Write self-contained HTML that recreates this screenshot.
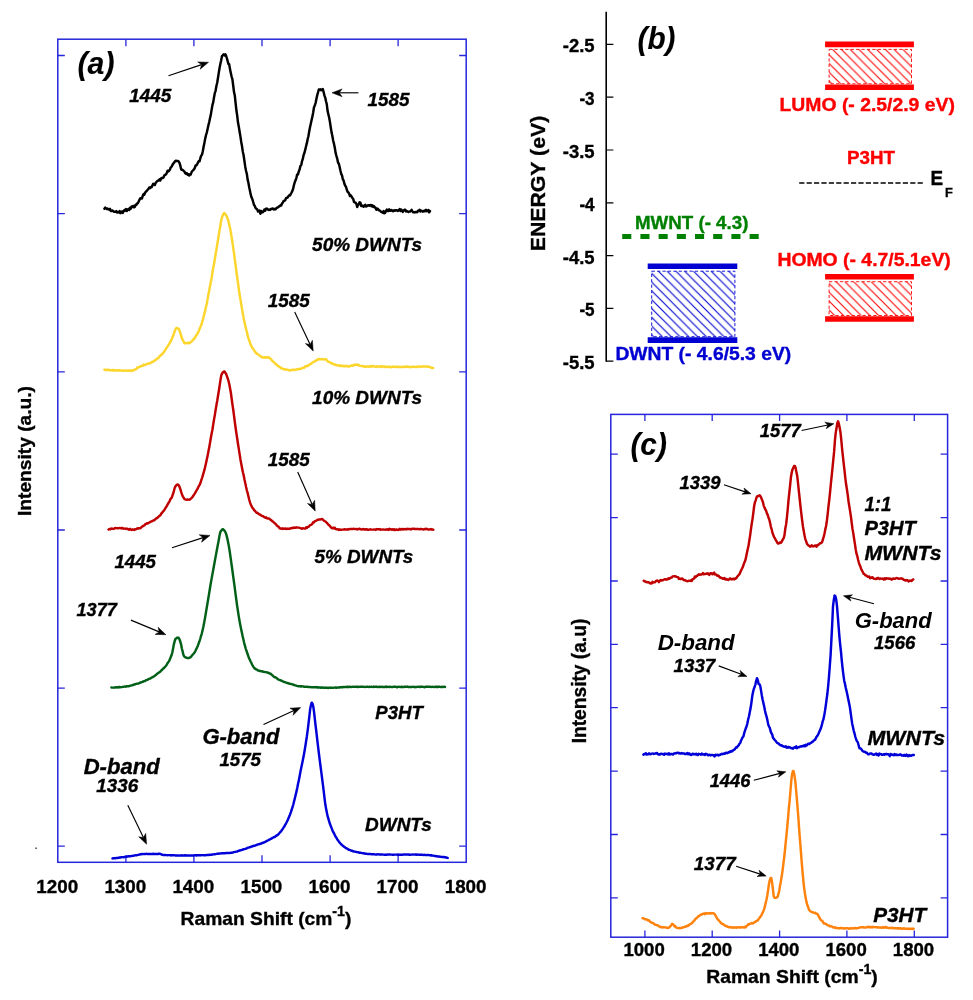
<!DOCTYPE html>
<html lang="en">
<head>
<meta charset="utf-8">
<title>Raman spectra and energy diagram</title>
<style>
html,body{margin:0;padding:0;background:#fff;}
body{width:973px;height:1000px;overflow:hidden;}
svg{display:block;}
svg text{font-family:"Liberation Sans",Arial,Helvetica,sans-serif;}
</style>
</head>
<body>
<svg width="973" height="1000" viewBox="0 0 973 1000">
<rect x="0" y="0" width="973" height="1000" fill="#ffffff"/>
<rect x="57.8" y="39.2" width="408.4" height="823.1" fill="none" stroke="#2626DC" stroke-width="1.5"/>
<path d="M125.9,39.2 v7 M125.9,862.3 v-7 M193.9,39.2 v7 M193.9,862.3 v-7 M262,39.2 v7 M262,862.3 v-7 M330.1,39.2 v7 M330.1,862.3 v-7 M398.1,39.2 v7 M398.1,862.3 v-7 M57.8,55.5 h7 M466.2,55.5 h-7 M57.8,213.7 h7 M466.2,213.7 h-7 M57.8,371.8 h7 M466.2,371.8 h-7 M57.8,530 h7 M466.2,530 h-7 M57.8,688.1 h7 M466.2,688.1 h-7 M57.8,846.2 h7 M466.2,846.2 h-7 " stroke="#2626DC" stroke-width="1.3" fill="none"/>
<text x="57.2" y="892.8" fill="#000" stroke="#000" stroke-width="0.35" style="font-size:19.2px;font-weight:bold;" text-anchor="middle" textLength="41.8" lengthAdjust="spacingAndGlyphs">1200</text>
<text x="125.3" y="892.8" fill="#000" stroke="#000" stroke-width="0.35" style="font-size:19.2px;font-weight:bold;" text-anchor="middle" textLength="41.8" lengthAdjust="spacingAndGlyphs">1300</text>
<text x="193.3" y="892.8" fill="#000" stroke="#000" stroke-width="0.35" style="font-size:19.2px;font-weight:bold;" text-anchor="middle" textLength="41.8" lengthAdjust="spacingAndGlyphs">1400</text>
<text x="261.4" y="892.8" fill="#000" stroke="#000" stroke-width="0.35" style="font-size:19.2px;font-weight:bold;" text-anchor="middle" textLength="41.8" lengthAdjust="spacingAndGlyphs">1500</text>
<text x="329.5" y="892.8" fill="#000" stroke="#000" stroke-width="0.35" style="font-size:19.2px;font-weight:bold;" text-anchor="middle" textLength="41.8" lengthAdjust="spacingAndGlyphs">1600</text>
<text x="397.5" y="892.8" fill="#000" stroke="#000" stroke-width="0.35" style="font-size:19.2px;font-weight:bold;" text-anchor="middle" textLength="41.8" lengthAdjust="spacingAndGlyphs">1700</text>
<text x="465.6" y="892.8" fill="#000" stroke="#000" stroke-width="0.35" style="font-size:19.2px;font-weight:bold;" text-anchor="middle" textLength="41.8" lengthAdjust="spacingAndGlyphs">1800</text>
<text x="180.6" y="924.5" fill="#000" stroke="#000" stroke-width="0.35" style="font-size:19px;font-weight:bold;" textLength="170.8" lengthAdjust="spacingAndGlyphs">Raman Shift (cm<tspan dy="-8.3" style="font-size:14px">-1</tspan><tspan dy="8.3">)</tspan></text>
<text x="30.6" y="451" fill="#000" stroke="#000" stroke-width="0.35" style="font-size:19px;font-weight:bold;" text-anchor="middle" textLength="130" lengthAdjust="spacingAndGlyphs" transform="rotate(-90 30.6 451)">Intensity (a.u.)</text>
<rect x="35.3" y="847.6" width="1.6" height="1.2" fill="#222"/>
<path d="M104.4,208.7 105.2,207.6 106,208.3 106.8,209 107.6,208.5 108.4,209.4 109.2,209.7 110,208.8 110.8,211 111.6,211 112.4,210.4 113.2,211.1 114,211.8 114.8,211.6 115.6,211.8 116.4,211.1 117.2,212.6 118,212.3 118.8,212.4 119.6,211.1 120.4,213.2 121.2,212 122,211.4 122.8,212.9 123.6,211.3 124.4,210.1 125.2,210.6 126,209 126.8,211.1 127.6,209.7 128.4,209.1 129.2,210 130,207.7 130.8,208.7 131.6,206.4 132.4,206.9 133.2,205.9 134,207.3 134.8,206.9 135.6,204.8 136.4,204.9 137.2,203.4 138,203.1 138.8,201.3 139.6,199.5 140.4,198.2 141.2,198.4 142,198.4 142.8,195.7 143.6,193.9 144.4,194.6 145.2,192.5 146,191.5 146.8,190.9 147.6,189.8 148.4,189 149.2,187.5 150,188.1 150.8,187 151.6,187.3 152.4,185.5 153.2,183.8 154,184.4 154.8,185 155.6,183 156.4,182 157.2,181.2 158,180.6 158.8,180.5 159.6,179.2 160.4,180.4 161.2,178.4 162,177.9 162.8,178.1 163.6,177.4 164.4,175.3 165.2,174.9 166,174.3 166.8,172.8 167.6,170.7 168.4,171.5 169.2,170.7 170,169.3 170.8,167.3 171.6,166.6 172.4,165.1 173.2,163.6 174,162.8 174.8,161.6 175.6,160.7 176.4,160.8 177.2,161.1 178,161 178.8,161.7 179.6,163.1 180.4,165.9 181.2,169.6 182,169.8 182.8,170 183.6,170.8 184.4,171.5 185.2,173.1 186,173.8 186.8,173.1 187.6,174.8 188.4,174.2 189.2,175.5 190,174.2 190.8,174.5 191.6,172 192.4,171 193.2,170.2 194,169.4 194.8,167.9 195.6,165.5 196.4,165.4 197.2,164.1 198,162.5 198.8,161 199.6,161.2 200.4,158 201.2,155.7 202,154.6 202.8,151.2 203.6,146.8 204.4,142.9 205.2,138.6 206,135.2 206.8,132.5 207.6,129 208.4,125.3 209.2,122.1 210,118.3 210.8,114.9 211.6,109.9 212.4,105.2 213.2,102.4 214,97.5 214.8,93.1 215.6,90.8 216.4,86 217.2,82.8 218,77.7 218.8,72.6 219.6,67.7 220.4,63.8 221.2,60.2 222,56.1 222.8,55.2 223.6,54.3 224.4,55.4 225.2,54.2 226,55.5 226.8,58 227.6,60.9 228.4,63.9 229.2,64.4 230,69.1 230.8,72.9 231.6,76.5 232.4,79.4 233.2,85.5 234,92.1 234.8,95.6 235.6,103.1 236.4,110.3 237.2,115.6 238,122.6 238.8,126.7 239.6,131.7 240.4,136.4 241.2,141.7 242,146.1 242.8,151.7 243.6,155.3 244.4,160.8 245.2,166.4 246,170.7 246.8,173.7 247.6,179.4 248.4,182.7 249.2,187.3 250,190.9 250.8,194.9 251.6,197.6 252.4,199.3 253.2,202 254,205 254.8,205.9 255.6,208.2 256.4,208.9 257.2,209.3 258,211.5 258.8,211 259.6,210.6 260.4,213.7 261.2,210.9 262,212.4 262.8,212.2 263.6,211.2 264.4,209.4 265.2,210.8 266,208.8 266.8,208.6 267.6,209.2 268.4,210 269.2,209.6 270,209.9 270.8,209 271.6,209.1 272.4,208.4 273.2,208.9 274,209.5 274.8,208.8 275.6,209.2 276.4,208.1 277.2,207.6 278,207.4 278.8,206.5 279.6,206.3 280.4,205.3 281.2,205.6 282,203.5 282.8,202.6 283.6,201 284.4,200.8 285.2,200.2 286,198.2 286.8,197.8 287.6,197.5 288.4,196.2 289.2,195.3 290,195.5 290.8,193.9 291.6,192.5 292.4,190.9 293.2,188.5 294,184.8 294.8,182.1 295.6,180.3 296.4,177.8 297.2,174.4 298,174.4 298.8,171.4 299.6,169.6 300.4,165.9 301.2,165.2 302,161.3 302.8,158.9 303.6,155.1 304.4,153 305.2,149.9 306,146.5 306.8,143.4 307.6,139.5 308.4,136.3 309.2,131.5 310,127.2 310.8,123.7 311.6,120 312.4,116.4 313.2,112.4 314,107.2 314.8,105.4 315.6,103.1 316.4,99.1 317.2,95.3 318,92.5 318.8,89.5 319.6,89.8 320.4,89.3 321.2,90.3 322,89.7 322.8,89.1 323.6,92 324.4,95.4 325.2,97.6 326,101.3 326.8,104.3 327.6,111.1 328.4,114.6 329.2,117.8 330,122.4 330.8,127.7 331.6,132.6 332.4,136.2 333.2,140.8 334,143.9 334.8,147.7 335.6,152.9 336.4,155.9 337.2,158.6 338,162.5 338.8,163.7 339.6,166.8 340.4,170.5 341.2,173.8 342,175.3 342.8,179.3 343.6,180.5 344.4,183.7 345.2,185.7 346,186.7 346.8,189.7 347.6,191.8 348.4,192.4 349.2,193.8 350,196.1 350.8,195.4 351.6,196.4 352.4,198.1 353.2,198.9 354,201.9 354.8,202.4 355.6,202.7 356.4,203.9 357.2,207 358,205 358.8,204.3 359.6,202.3 360.4,202.6 361.2,206.1 362,205.8 362.8,205.6 363.6,206.7 364.4,206.1 365.2,204.8 366,206.6 366.8,206.2 367.6,205.4 368.4,205.3 369.2,205.7 370,205.1 370.8,204.9 371.6,206.3 372.4,205.4 373.2,207 374,206.1 374.8,207.4 375.6,207.9 376.4,209.8 377.2,208.5 378,209 378.8,210.2 379.6,210.4 380.4,211.1 381.2,211.9 382,212.2 382.8,212.7 383.6,211 384.4,213.3 385.2,212.7 386,211.1 386.8,209.6 387.6,211 388.4,211 389.2,209.3 390,210.8 390.8,210.6 391.6,210.1 392.4,211.1 393.2,211.3 394,210.3 394.8,210.8 395.6,210.1 396.4,210.1 397.2,210.7 398,211 398.8,210.2 399.6,209.1 400.4,211 401.2,209.5 402,210.7 402.8,211.9 403.6,210.6 404.4,209.8 405.2,209.7 406,211.6 406.8,211 407.6,211.5 408.4,212 409.2,211.5 410,211.5 410.8,211.2 411.6,209.9 412.4,211.1 413.2,212.2 414,212.1 414.8,212.5 415.6,212 416.4,212 417.2,212.2 418,210.8 418.8,211 419.6,209.8 420.4,211.5 421.2,210.7 422,211 422.8,211.7 423.6,211.4 424.4,210.6 425.2,211.3 426,209.8 426.8,211.2 427.6,211.1 428.4,210 429.2,212.3 430,211" fill="none" stroke="#000000" stroke-width="2.45" stroke-linejoin="round" stroke-linecap="round"/>
<path d="M104.4,369.7 105.2,369.6 106,370 106.8,370.2 107.6,369.8 108.4,369.7 109.2,370.1 110,370.4 110.8,370.2 111.6,370.2 112.4,370.6 113.2,369.8 114,370.4 114.8,370.2 115.6,370.7 116.4,370.4 117.2,370.3 118,370.5 118.8,370.2 119.6,370.6 120.4,370.4 121.2,370.5 122,370.4 122.8,370.8 123.6,370.6 124.4,370.7 125.2,370.7 126,370.4 126.8,370.7 127.6,370.7 128.4,370.7 129.2,370.5 130,370.5 130.8,370.8 131.6,371.1 132.4,370.3 133.2,370.4 134,369.9 134.8,369.8 135.6,369.3 136.4,369 137.2,367.6 138,367.7 138.8,367.1 139.6,366.9 140.4,366.3 141.2,366 142,366 142.8,366 143.6,364.6 144.4,365 145.2,364.9 146,364.5 146.8,364.2 147.6,363.7 148.4,363.5 149.2,363.6 150,363.4 150.8,362.8 151.6,362.2 152.4,362 153.2,361.5 154,361.2 154.8,360.5 155.6,359.8 156.4,359.4 157.2,358.4 158,358.2 158.8,357.6 159.6,356.2 160.4,355.8 161.2,354.7 162,354.4 162.8,353.5 163.6,352.2 164.4,351.5 165.2,350 166,348.8 166.8,347.6 167.6,346.4 168.4,345.1 169.2,343.8 170,342.3 170.8,341.1 171.6,339.6 172.4,337.5 173.2,335.5 174,333.5 174.8,330.9 175.6,329.1 176.4,328 177.2,327.9 178,328.6 178.8,328.9 179.6,331 180.4,333.1 181.2,335.8 182,338.7 182.8,340 183.6,341.7 184.4,343.1 185.2,343.4 186,343.2 186.8,343 187.6,343 188.4,342.7 189.2,343.4 190,342.7 190.8,342.1 191.6,341.3 192.4,340.6 193.2,339.8 194,338.5 194.8,338.2 195.6,336.5 196.4,335.2 197.2,334 198,332.7 198.8,331 199.6,328.7 200.4,327 201.2,324.9 202,322.7 202.8,320 203.6,316.8 204.4,313.6 205.2,310.7 206,306.8 206.8,303.5 207.6,299.1 208.4,294.6 209.2,290.5 210,286.2 210.8,282 211.6,277.9 212.4,272.8 213.2,268.2 214,264.1 214.8,259.2 215.6,254.4 216.4,249.6 217.2,244.6 218,240 218.8,234.6 219.6,229.9 220.4,225.2 221.2,220.8 222,217.3 222.8,215.2 223.6,213.5 224.4,213.1 225.2,213.8 226,215.3 226.8,216.5 227.6,218.6 228.4,220.9 229.2,224.9 230,227.8 230.8,232.1 231.6,237 232.4,242.3 233.2,247.6 234,253.1 234.8,259.4 235.6,265.2 236.4,271.5 237.2,277 238,283 238.8,289 239.6,294.5 240.4,299.3 241.2,304 242,308.9 242.8,313.2 243.6,317.9 244.4,321.6 245.2,325.5 246,328.7 246.8,331.8 247.6,335.1 248.4,338.1 249.2,340.4 250,342.7 250.8,345 251.6,346.3 252.4,348 253.2,348.9 254,350 254.8,351.5 255.6,352.3 256.4,353.5 257.2,353.7 258,354.5 258.8,355 259.6,355.4 260.4,356 261.2,357 262,356.9 262.8,357.5 263.6,357.6 264.4,357.2 265.2,357.7 266,357.3 266.8,357.5 267.6,357.2 268.4,357.6 269.2,357.5 270,358.5 270.8,359 271.6,360 272.4,361 273.2,361.6 274,362.3 274.8,363.3 275.6,364.1 276.4,364.3 277.2,365.4 278,366.1 278.8,366.3 279.6,367.2 280.4,367.3 281.2,368.4 282,368.4 282.8,368.7 283.6,369.3 284.4,369.2 285.2,369.6 286,369.4 286.8,369.7 287.6,369.7 288.4,370.1 289.2,370.4 290,370.2 290.8,370.4 291.6,369.9 292.4,369.8 293.2,369.8 294,370 294.8,369.8 295.6,369.6 296.4,369.6 297.2,369.2 298,369.1 298.8,369.3 299.6,368.6 300.4,368.6 301.2,368.8 302,368.1 302.8,368 303.6,367.4 304.4,367.7 305.2,366.3 306,366.2 306.8,365.9 307.6,366.2 308.4,365.5 309.2,364.8 310,364.1 310.8,363.9 311.6,363.4 312.4,362.7 313.2,362 314,361.6 314.8,361.4 315.6,360.9 316.4,360.4 317.2,359.9 318,359.1 318.8,359.4 319.6,359 320.4,359.3 321.2,359.4 322,359.1 322.8,359 323.6,359.5 324.4,359.4 325.2,359.3 326,359.1 326.8,360.3 327.6,361.1 328.4,361.9 329.2,362 330,362.4 330.8,362.8 331.6,363.5 332.4,363.4 333.2,364 334,364.2 334.8,364.8 335.6,364.6 336.4,365.3 337.2,365.3 338,365.4 338.8,365.7 339.6,365.9 340.4,365.3 341.2,366 342,366 342.8,365.8 343.6,366.3 344.4,366 345.2,366.3 346,365.9 346.8,365.9 347.6,366.4 348.4,366.6 349.2,366.2 350,366.2 350.8,365.7 351.6,365.4 352.4,365.5 353.2,365.8 354,364.8 354.8,365 355.6,364.5 356.4,364.9 357.2,365.1 358,364.6 358.8,365.1 359.6,365.8 360.4,365.9 361.2,365.9 362,366.1 362.8,366 363.6,366.7 364.4,366.3 365.2,366.8 366,366.7 366.8,366.3 367.6,366.4 368.4,366.7 369.2,366.5 370,366.6 370.8,366.1 371.6,366.7 372.4,366.3 373.2,365.9 374,366.3 374.8,366.6 375.6,367 376.4,366.4 377.2,366.2 378,367 378.8,366.6 379.6,366.5 380.4,366.3 381.2,366.3 382,367 382.8,366.5 383.6,366.5 384.4,366.5 385.2,367.1 386,366.6 386.8,366.9 387.6,366.9 388.4,366.9 389.2,366.6 390,367 390.8,367.3 391.6,366.9 392.4,366.7 393.2,366.6 394,367 394.8,366.8 395.6,366.9 396.4,366.9 397.2,366.5 398,367.1 398.8,367 399.6,366.9 400.4,367 401.2,367.1 402,366.9 402.8,366.7 403.6,367.2 404.4,366.8 405.2,366.7 406,366.5 406.8,366.9 407.6,366.6 408.4,366.8 409.2,367 410,366.9 410.8,367.2 411.6,367 412.4,366.8 413.2,366.8 414,366.8 414.8,367.1 415.6,366.9 416.4,366.8 417.2,367 418,366.8 418.8,366.6 419.6,366.3 420.4,366.8 421.2,366.7 422,366.6 422.8,366.5 423.6,366.3 424.4,366.5 425.2,366.6 426,366.5 426.8,366.5 427.6,366.5 428.4,366.8 429.2,366.9 430,366.9 430.8,367.5 431.6,367.7 432.4,368 433.2,368" fill="none" stroke="#FCD62C" stroke-width="2.45" stroke-linejoin="round" stroke-linecap="round"/>
<path d="M108.5,529.5 109.3,529.1 110.1,529.4 110.9,528.5 111.7,528.8 112.5,528.7 113.3,528.9 114.1,528.6 114.9,528.2 115.7,528 116.5,528.1 117.3,528.3 118.1,528.2 118.9,528.1 119.7,528 120.5,528.1 121.3,528.4 122.1,527.9 122.9,528.3 123.7,528.7 124.5,528.6 125.3,528.5 126.1,528.9 126.9,528.7 127.7,529 128.5,529.5 129.3,529.7 130.1,528.9 130.9,529.6 131.7,530 132.5,529.4 133.3,529.6 134.1,529.9 134.9,529.3 135.7,529.4 136.5,529 137.3,528.3 138.1,528.6 138.9,528.2 139.7,528.2 140.5,528.2 141.3,527.3 142.1,526.6 142.9,526.2 143.7,525.6 144.5,525.3 145.3,524.2 146.1,523.8 146.9,523.2 147.7,523.5 148.5,523 149.3,522.5 150.1,522.1 150.9,521.7 151.7,521.2 152.5,521 153.3,520.5 154.1,520.4 154.9,519.6 155.7,518.8 156.5,518.2 157.3,518 158.1,517.1 158.9,516.3 159.7,515.7 160.5,515.1 161.3,513.5 162.1,512.8 162.9,511.5 163.7,511 164.5,509.6 165.3,508.3 166.1,506.9 166.9,505.9 167.7,504.3 168.5,502.8 169.3,501.9 170.1,499.9 170.9,498.4 171.7,497.8 172.5,495.3 173.3,493.3 174.1,490.3 174.9,487.3 175.7,486 176.5,485 177.3,484.5 178.1,484.7 178.9,485.5 179.7,487.3 180.5,489.6 181.3,492.3 182.1,494.7 182.9,496.6 183.7,497.8 184.5,499.1 185.3,499.4 186.1,499.7 186.9,499.7 187.7,499.5 188.5,499.6 189.3,499.7 190.1,499.3 190.9,498.6 191.7,497.9 192.5,497 193.3,495.7 194.1,494.6 194.9,493.3 195.7,491.9 196.5,490.5 197.3,489.1 198.1,487.6 198.9,485.9 199.7,484.8 200.5,482.8 201.3,480.2 202.1,477.8 202.9,475.2 203.7,472.4 204.5,469.7 205.3,466.3 206.1,462.8 206.9,459 207.7,455.2 208.5,451.1 209.3,446.9 210.1,442.4 210.9,437.5 211.7,433.3 212.5,429.2 213.3,423.9 214.1,419.1 214.9,414.6 215.7,409.5 216.5,404.6 217.3,400.3 218.1,395.3 218.9,390.5 219.7,385.3 220.5,379.9 221.3,375.2 222.1,373.5 222.9,372.3 223.7,371.7 224.5,371.5 225.3,372.7 226.1,373.8 226.9,376.1 227.7,378.4 228.5,381 229.3,384.3 230.1,388.4 230.9,393 231.7,399 232.5,404.8 233.3,410.2 234.1,416.3 234.9,422.6 235.7,428.5 236.5,434 237.3,439.2 238.1,444.5 238.9,449.6 239.7,454.6 240.5,459.7 241.3,463.9 242.1,468.2 242.9,472.2 243.7,475.4 244.5,479.6 245.3,483.2 246.1,487.1 246.9,490.6 247.7,493.2 248.5,496.7 249.3,500 250.1,502.6 250.9,504.8 251.7,506.4 252.5,508.1 253.3,508.7 254.1,510.2 254.9,510.8 255.7,511.8 256.5,512.7 257.3,512.8 258.1,513.4 258.9,514.2 259.7,514.4 260.5,514.9 261.3,515.5 262.1,516 262.9,516.1 263.7,516.7 264.5,517.3 265.3,517.8 266.1,517.3 266.9,518.4 267.7,518.6 268.5,518.4 269.3,518.7 270.1,519.5 270.9,519.8 271.7,520.6 272.5,521.4 273.3,521.8 274.1,522.6 274.9,523.3 275.7,524.1 276.5,525.1 277.3,526 278.1,526.5 278.9,527.1 279.7,528.4 280.5,528.5 281.3,528.7 282.1,528.4 282.9,528.9 283.7,528.6 284.5,528.7 285.3,528.5 286.1,528.8 286.9,529 287.7,528.6 288.5,528.7 289.3,528.9 290.1,528.5 290.9,528.3 291.7,528.2 292.5,527.8 293.3,528 294.1,527.5 294.9,527.8 295.7,527.8 296.5,527.3 297.3,527.6 298.1,527.6 298.9,527.6 299.7,527.9 300.5,528.1 301.3,528.5 302.1,528.7 302.9,528.2 303.7,528.4 304.5,528.6 305.3,528.6 306.1,527.4 306.9,527.9 307.7,527 308.5,526.9 309.3,525.9 310.1,525.2 310.9,524.9 311.7,524.5 312.5,523.5 313.3,522.1 314.1,522.2 314.9,521.1 315.7,520.9 316.5,520.5 317.3,519.9 318.1,519.7 318.9,519.5 319.7,519.4 320.5,519.4 321.3,519.2 322.1,519 322.9,519.7 323.7,520.4 324.5,521 325.3,521.4 326.1,522.2 326.9,522.9 327.7,523.8 328.5,524.9 329.3,525.3 330.1,526.2 330.9,527.4 331.7,527.9 332.5,528.3 333.3,527.6 334.1,528.4 334.9,527.9 335.7,529.1 336.5,529.2 337.3,529.3 338.1,529.4 338.9,529.9 339.7,529.5 340.5,529.8 341.3,529.7 342.1,529.6 342.9,529.6 343.7,529.5 344.5,529.2 345.3,529.6 346.1,529.6 346.9,529.3 347.7,529.5 348.5,529.5 349.3,528.9 350.1,529.1 350.9,529 351.7,528.9 352.5,529.1 353.3,528.8 354.1,528.9 354.9,529 355.7,529.1 356.5,529 357.3,529.5 358.1,528.9 358.9,529.1 359.7,528.7 360.5,529.2 361.3,529.4 362.1,529.4 362.9,529 363.7,529.2 364.5,529.6 365.3,529.3 366.1,529.6 366.9,529.2 367.7,529.8 368.5,529.7 369.3,529.6 370.1,529.3 370.9,529.5 371.7,529.6 372.5,529.6 373.3,529.6 374.1,529.5 374.9,529.6 375.7,529.9 376.5,529.1 377.3,529.2 378.1,529.2 378.9,529.4 379.7,529.1 380.5,529.7 381.3,529.6 382.1,529.5 382.9,529.4 383.7,529.6 384.5,529.6 385.3,529.7 386.1,529.4 386.9,529.7 387.7,529.2 388.5,529.9 389.3,528.8 390.1,529.4 390.9,529.3 391.7,529.8 392.5,529.2 393.3,530 394.1,529.2 394.9,530.1 395.7,529.7 396.5,529.5 397.3,529.6 398.1,530 398.9,529.7 399.7,528.9 400.5,529.7 401.3,529.4 402.1,528.9 402.9,529.5 403.7,529 404.5,529.3 405.3,529.3 406.1,529 406.9,529.3 407.7,528.8 408.5,529.1 409.3,528.9 410.1,529 410.9,529.5 411.7,529 412.5,528.7 413.3,528.9 414.1,528.8 414.9,529 415.7,529 416.5,529 417.3,529 418.1,528.9 418.9,529.1 419.7,529.3 420.5,528.9 421.3,529 422.1,529.1 422.9,529.4 423.7,529.4 424.5,529 425.3,529.2 426.1,528.8 426.9,529 427.7,529.3 428.5,529.5 429.3,529.6 430.1,529.3 430.9,529.1 431.7,529.6 432.5,529.5 433.3,529.7" fill="none" stroke="#C00000" stroke-width="2.45" stroke-linejoin="round" stroke-linecap="round"/>
<path d="M111.4,687.5 112.2,687.6 113,687.6 113.8,687.6 114.6,687.4 115.4,687.5 116.2,687.3 117,687.3 117.8,687.5 118.6,687.3 119.4,687 120.2,687.3 121,687.1 121.8,687.1 122.6,686.9 123.4,686.8 124.2,686.6 125,686.5 125.8,686.7 126.6,686.3 127.4,686.2 128.2,686.1 129,686.2 129.8,685.9 130.6,685.6 131.4,685.4 132.2,685.3 133,685.1 133.8,684.5 134.6,684.6 135.4,684.2 136.2,683.9 137,683.7 137.8,683.6 138.6,683.5 139.4,683 140.2,682.8 141,682.3 141.8,682.2 142.6,681.9 143.4,681.4 144.2,681.1 145,681 145.8,680.3 146.6,680.1 147.4,679.9 148.2,679.2 149,679 149.8,678.6 150.6,678.3 151.4,677.6 152.2,677.4 153,676.9 153.8,676.5 154.6,675.9 155.4,675.3 156.2,674.8 157,673.9 157.8,673.3 158.6,672.8 159.4,672.2 160.2,671.7 161,670.6 161.8,670.1 162.6,669.2 163.4,668.4 164.2,667.9 165,666.8 165.8,666 166.6,664.9 167.4,663.5 168.2,662.2 169,661.3 169.8,659.4 170.6,657.5 171.4,655.6 172.2,653 173,648.9 173.8,644.6 174.6,641.4 175.4,639 176.2,638.4 177,637.8 177.8,637.6 178.6,637.8 179.4,639.2 180.2,641.3 181,644.1 181.8,648.3 182.6,651.4 183.4,654.7 184.2,656.4 185,657.1 185.8,657.4 186.6,657.9 187.4,658.1 188.2,657.9 189,658 189.8,657.5 190.6,657.3 191.4,656.2 192.2,655.2 193,654.3 193.8,653.5 194.6,652.4 195.4,651 196.2,649.2 197,647.6 197.8,645.9 198.6,643.6 199.4,641.5 200.2,639 201,636.2 201.8,633.5 202.6,630.2 203.4,626.6 204.2,622.5 205,618.1 205.8,613.4 206.6,608.5 207.4,603.9 208.2,599 209,594.3 209.8,589.3 210.6,584.3 211.4,579.9 212.2,575.4 213,571.1 213.8,566.8 214.6,562.2 215.4,557.9 216.2,553.6 217,549.2 217.8,545.1 218.6,540.9 219.4,536.2 220.2,532.5 221,530.9 221.8,530 222.6,529.2 223.4,529.5 224.2,530.3 225,531.5 225.8,532.9 226.6,535.6 227.4,538.8 228.2,542.8 229,547 229.8,552 230.6,557.7 231.4,563.4 232.2,569 233,575 233.8,580.9 234.6,586.7 235.4,592.8 236.2,598.9 237,604.8 237.8,610.1 238.6,615.4 239.4,620.1 240.2,624.5 241,628.6 241.8,632.3 242.6,636.1 243.4,639.5 244.2,643.1 245,645.9 245.8,648.8 246.6,651.1 247.4,653.5 248.2,655.8 249,658 249.8,659.8 250.6,661.5 251.4,662.9 252.2,664.9 253,666.1 253.8,667.5 254.6,668.4 255.4,668.9 256.2,669.4 257,669.6 257.8,670.5 258.6,670.5 259.4,670.9 260.2,670.9 261,671.2 261.8,671.3 262.6,671.5 263.4,671.7 264.2,671.9 265,672.1 265.8,672.1 266.6,672.3 267.4,672.4 268.2,672.9 269,672.9 269.8,673.6 270.6,673.7 271.4,674.5 272.2,675.2 273,675.8 273.8,676.8 274.6,677.3 275.4,677.3 276.2,677.8 277,678.4 277.8,679.2 278.6,679.6 279.4,679.9 280.2,680.1 281,680.6 281.8,680.7 282.6,681.2 283.4,681.7 284.2,682 285,682.1 285.8,682.5 286.6,682.9 287.4,683 288.2,683.2 289,683.5 289.8,683.7 290.6,683.9 291.4,684.1 292.2,684.3 293,684.6 293.8,684.8 294.6,685.2 295.4,685.4 296.2,685.6 297,685.9 297.8,686.1 298.6,686.2 299.4,686.2 300.2,686.2 301,686.6 301.8,686.3 302.6,686.4 303.4,686.5 304.2,686.7 305,686.8 305.8,686.9 306.6,686.8 307.4,686.7 308.2,687 309,687.1 309.8,687 310.6,687.1 311.4,687.2 312.2,687.3 313,687.2 313.8,687.1 314.6,687.2 315.4,687.3 316.2,687.1 317,687.5 317.8,687.3 318.6,687.5 319.4,687.5 320.2,687.5 321,687.7 321.8,687.5 322.6,687.5 323.4,687.7 324.2,687.7 325,687.7 325.8,687.6 326.6,687.8 327.4,687.8 328.2,688 329,687.7 329.8,687.8 330.6,687.7 331.4,687.6 332.2,687.8 333,687.9 333.8,687.6 334.6,687.6 335.4,687.5 336.2,687.8 337,687.5 337.8,687.6 338.6,687.4 339.4,687.5 340.2,687.3 341,687.1 341.8,687.3 342.6,687.3 343.4,686.9 344.2,687.1 345,687 345.8,686.9 346.6,687 347.4,686.7 348.2,687 349,687.1 349.8,686.7 350.6,686.9 351.4,687 352.2,686.9 353,686.8 353.8,686.8 354.6,686.9 355.4,686.8 356.2,686.9 357,686.7 357.8,687 358.6,686.8 359.4,686.9 360.2,686.8 361,686.7 361.8,686.8 362.6,686.8 363.4,686.8 364.2,686.9 365,687 365.8,686.9 366.6,686.8 367.4,686.8 368.2,686.9 369,687 369.8,686.8 370.6,686.9 371.4,686.8 372.2,686.9 373,687 373.8,686.5 374.6,686.9 375.4,686.8 376.2,686.6 377,686.9 377.8,686.9 378.6,686.9 379.4,686.7 380.2,687.1 381,686.9 381.8,686.8 382.6,687 383.4,686.9 384.2,687 385,687 385.8,686.6 386.6,687.1 387.4,686.8 388.2,686.9 389,687 389.8,686.8 390.6,686.9 391.4,687 392.2,686.9 393,686.9 393.8,686.7 394.6,686.7 395.4,686.7 396.2,686.9 397,687.3 397.8,686.9 398.6,686.8 399.4,686.9 400.2,687 401,687 401.8,686.7 402.6,687 403.4,686.9 404.2,687 405,686.6 405.8,686.7 406.6,686.9 407.4,686.6 408.2,686.9 409,686.9 409.8,686.9 410.6,686.9 411.4,686.9 412.2,686.9 413,686.8 413.8,686.9 414.6,687.2 415.4,687 416.2,686.9 417,686.9 417.8,686.8 418.6,686.9 419.4,686.8 420.2,687 421,686.8 421.8,686.6 422.6,686.8 423.4,686.9 424.2,687.2 425,687 425.8,686.7 426.6,686.8 427.4,686.8 428.2,686.8 429,686.8 429.8,686.7 430.6,686.9 431.4,686.9 432.2,686.8 433,686.9 433.8,687.1 434.6,686.9 435.4,686.8 436.2,687 437,686.7 437.8,687 438.6,686.8 439.4,686.8 440.2,686.9 441,687.1 441.8,686.8 442.6,687 443.4,686.9 444.2,686.7 445,687" fill="none" stroke="#006018" stroke-width="2.45" stroke-linejoin="round" stroke-linecap="round"/>
<path d="M112.5,858.4 113.3,858.2 114.1,858.2 114.9,858.1 115.7,858.2 116.5,857.9 117.3,858.1 118.1,857.8 118.9,857.7 119.7,857.5 120.5,857.6 121.3,857.2 122.1,857.1 122.9,857.1 123.7,857.2 124.5,857 125.3,856.9 126.1,856.8 126.9,856.5 127.7,856.5 128.5,856.3 129.3,856.4 130.1,856.2 130.9,856.1 131.7,856 132.5,855.9 133.3,855.7 134.1,855.6 134.9,855.4 135.7,855.2 136.5,855.2 137.3,855.1 138.1,854.9 138.9,854.6 139.7,854.5 140.5,854.2 141.3,854.2 142.1,854 142.9,854 143.7,854.1 144.5,854 145.3,854.1 146.1,853.8 146.9,853.9 147.7,853.9 148.5,854 149.3,853.9 150.1,854 150.9,853.9 151.7,854.1 152.5,854 153.3,853.8 154.1,854 154.9,853.9 155.7,854 156.5,853.9 157.3,854 158.1,854 158.9,853.7 159.7,853.7 160.5,854.1 161.3,854.3 162.1,854.7 162.9,854.9 163.7,854.9 164.5,855.1 165.3,855 166.1,855.1 166.9,855.1 167.7,855.2 168.5,855.1 169.3,855.1 170.1,855.1 170.9,855.5 171.7,855.2 172.5,855.3 173.3,855.3 174.1,855.3 174.9,855.4 175.7,855.5 176.5,855.4 177.3,855.5 178.1,855.4 178.9,855.5 179.7,855.6 180.5,855.5 181.3,855.5 182.1,855.3 182.9,855.6 183.7,855.5 184.5,855.6 185.3,855.2 186.1,855.5 186.9,855.5 187.7,855.5 188.5,855.4 189.3,855.5 190.1,855.6 190.9,855.5 191.7,855.4 192.5,855.4 193.3,855.4 194.1,855.4 194.9,855.3 195.7,855.2 196.5,855.5 197.3,855.2 198.1,855.3 198.9,855.2 199.7,855.3 200.5,855.2 201.3,855.2 202.1,855.1 202.9,855.1 203.7,855.2 204.5,855.3 205.3,855.2 206.1,855.1 206.9,855 207.7,855 208.5,855 209.3,854.8 210.1,854.9 210.9,854.7 211.7,854.7 212.5,854.5 213.3,854.4 214.1,854.3 214.9,854.2 215.7,854.1 216.5,853.9 217.3,853.8 218.1,853.7 218.9,853.5 219.7,853.6 220.5,853.5 221.3,853.4 222.1,853.2 222.9,853.3 223.7,853.2 224.5,853.3 225.3,853.2 226.1,852.9 226.9,853.1 227.7,853 228.5,852.9 229.3,852.9 230.1,852.9 230.9,852.8 231.7,852.8 232.5,852.6 233.3,852.3 234.1,852.1 234.9,851.9 235.7,851.8 236.5,851.6 237.3,851.5 238.1,850.9 238.9,850.8 239.7,850.5 240.5,850.3 241.3,850.1 242.1,849.8 242.9,849.5 243.7,849.3 244.5,849.1 245.3,848.9 246.1,848.7 246.9,848.2 247.7,847.8 248.5,847.6 249.3,847.3 250.1,847.2 250.9,846.8 251.7,846.6 252.5,846.2 253.3,846 254.1,845.8 254.9,845.7 255.7,845.2 256.5,845.1 257.3,844.6 258.1,844.4 258.9,844.2 259.7,844 260.5,843.8 261.3,843.5 262.1,843 262.9,842.9 263.7,842.4 264.5,842.3 265.3,841.8 266.1,841.4 266.9,840.9 267.7,840.5 268.5,840.1 269.3,839.6 270.1,839.3 270.9,838.8 271.7,838.4 272.5,837.9 273.3,837.6 274.1,837 274.9,837 275.7,836.1 276.5,835.6 277.3,835.2 278.1,834.6 278.9,833.7 279.7,832.8 280.5,831.9 281.3,830.9 282.1,829.7 282.9,828.6 283.7,827.4 284.5,826.2 285.3,824.6 286.1,823.3 286.9,821.7 287.7,820.1 288.5,818.2 289.3,816.3 290.1,814.4 290.9,812.2 291.7,809.6 292.5,807.2 293.3,804.5 294.1,801.3 294.9,798.1 295.7,794.8 296.5,791.4 297.3,787.8 298.1,783.6 298.9,779.9 299.7,775.8 300.5,771.4 301.3,767.4 302.1,763.7 302.9,759.8 303.7,755.7 304.5,751.2 305.3,746.5 306.1,741.3 306.9,736.2 307.7,730.2 308.5,723.7 309.3,716.9 310.1,709.6 310.9,705.3 311.7,702.7 312.5,703.5 313.3,706.6 314.1,712.3 314.9,719.6 315.7,726.5 316.5,733.2 317.3,740.1 318.1,746.8 318.9,753.5 319.7,759.9 320.5,766 321.3,772.2 322.1,778.4 322.9,784.7 323.7,791.2 324.5,797.9 325.3,804.3 326.1,808.8 326.9,812.8 327.7,816.4 328.5,819.1 329.3,821.8 330.1,824.3 330.9,826.4 331.7,828.4 332.5,830.5 333.3,832.2 334.1,833.5 334.9,835.3 335.7,836.7 336.5,837.9 337.3,839.4 338.1,840.4 338.9,841.7 339.7,842.6 340.5,843.6 341.3,844.5 342.1,845.1 342.9,845.8 343.7,846.4 344.5,847 345.3,847.7 346.1,848.2 346.9,848.5 347.7,849 348.5,849.7 349.3,849.8 350.1,850.1 350.9,850.5 351.7,850.7 352.5,851 353.3,851.3 354.1,851.5 354.9,851.6 355.7,851.9 356.5,852 357.3,852.1 358.1,852.3 358.9,852.5 359.7,852.7 360.5,852.8 361.3,852.9 362.1,853.1 362.9,853.2 363.7,853.3 364.5,853.5 365.3,853.7 366.1,853.7 366.9,853.9 367.7,854 368.5,853.9 369.3,853.9 370.1,853.9 370.9,854.1 371.7,854.2 372.5,854.3 373.3,854.1 374.1,854.3 374.9,854.4 375.7,854.6 376.5,854.4 377.3,854.4 378.1,854.3 378.9,854.4 379.7,854.4 380.5,854.4 381.3,854.4 382.1,854.4 382.9,854.6 383.7,854.6 384.5,854.7 385.3,854.6 386.1,854.7 386.9,854.7 387.7,854.4 388.5,854.6 389.3,854.5 390.1,854.5 390.9,854.6 391.7,854.6 392.5,854.7 393.3,854.8 394.1,854.6 394.9,854.6 395.7,854.6 396.5,854.6 397.3,854.7 398.1,854.5 398.9,854.7 399.7,854.6 400.5,854.7 401.3,854.7 402.1,854.8 402.9,854.6 403.7,854.5 404.5,854.4 405.3,854.6 406.1,854.5 406.9,854.4 407.7,854.6 408.5,854.5 409.3,854.7 410.1,854.8 410.9,854.6 411.7,854.6 412.5,854.5 413.3,854.6 414.1,854.6 414.9,854.5 415.7,854.5 416.5,854.8 417.3,854.5 418.1,854.6 418.9,854.7 419.7,854.8 420.5,854.8 421.3,854.8 422.1,854.8 422.9,854.9 423.7,854.9 424.5,854.8 425.3,855.1 426.1,855 426.9,855.1 427.7,854.9 428.5,855 429.3,855.1 430.1,855.2 430.9,855.5 431.7,855.3 432.5,855.6 433.3,855.6 434.1,855.9 434.9,856 435.7,856 436.5,856.4 437.3,856.3 438.1,856.6 438.9,856.4 439.7,856.7 440.5,856.8 441.3,856.9 442.1,857 442.9,857 443.7,856.9 444.5,857.3 445.3,857.3 446.1,857.5 446.9,857.7 447.7,857.9" fill="none" stroke="#0000D8" stroke-width="2.45" stroke-linejoin="round" stroke-linecap="round"/>
<text x="77.5" y="74.2" fill="#000" stroke="#000" stroke-width="0.1" style="font-size:30.5px;font-weight:bold;font-style:italic;" textLength="37" lengthAdjust="spacingAndGlyphs">(a)</text>
<text x="129.3" y="102.4" fill="#000" stroke="#000" stroke-width="0.35" style="font-size:18.6px;font-weight:bold;font-style:italic;" textLength="42" lengthAdjust="spacingAndGlyphs">1445</text>
<path d="M168.5,75.8 L201.6,64.6" stroke="#000" stroke-width="1.15" fill="none"/>
<path d="M208.5,62.3 L200.2,69.2 L201.6,64.6 L197.7,61.9 Z" fill="#000" stroke="#000" stroke-width="0.5" stroke-linejoin="miter"/>
<text x="367.6" y="105.8" fill="#000" stroke="#000" stroke-width="0.35" style="font-size:18.6px;font-weight:bold;font-style:italic;" textLength="42" lengthAdjust="spacingAndGlyphs">1585</text>
<path d="M358.4,92.8 L339.3,92.8" stroke="#000" stroke-width="1.15" fill="none"/>
<path d="M332,92.8 L342.1,88.9 L339.3,92.8 L342.1,96.7 Z" fill="#000" stroke="#000" stroke-width="0.5" stroke-linejoin="miter"/>
<text x="312.1" y="251.2" fill="#000" stroke="#000" stroke-width="0.35" style="font-size:18.6px;font-weight:bold;font-style:italic;" textLength="110" lengthAdjust="spacingAndGlyphs">50% DWNTs</text>
<text x="267.8" y="306.9" fill="#000" stroke="#000" stroke-width="0.35" style="font-size:18.6px;font-weight:bold;font-style:italic;" textLength="42" lengthAdjust="spacingAndGlyphs">1585</text>
<path d="M294.7,312 L310.1,344.5" stroke="#000" stroke-width="1.15" fill="none"/>
<path d="M313.2,351.1 L305.4,343.6 L310.1,344.5 L312.4,340.3 Z" fill="#000" stroke="#000" stroke-width="0.5" stroke-linejoin="miter"/>
<text x="312.1" y="404.2" fill="#000" stroke="#000" stroke-width="0.35" style="font-size:18.6px;font-weight:bold;font-style:italic;" textLength="110" lengthAdjust="spacingAndGlyphs">10% DWNTs</text>
<text x="267.8" y="465.9" fill="#000" stroke="#000" stroke-width="0.35" style="font-size:18.6px;font-weight:bold;font-style:italic;" textLength="42" lengthAdjust="spacingAndGlyphs">1585</text>
<path d="M297.7,472 L312.2,504.4" stroke="#000" stroke-width="1.15" fill="none"/>
<path d="M315.2,511.1 L307.5,503.5 L312.2,504.4 L314.6,500.3 Z" fill="#000" stroke="#000" stroke-width="0.5" stroke-linejoin="miter"/>
<text x="114.5" y="567.7" fill="#000" stroke="#000" stroke-width="0.35" style="font-size:18.6px;font-weight:bold;font-style:italic;" textLength="41.5" lengthAdjust="spacingAndGlyphs">1445</text>
<path d="M172,547.7 L203.1,537.6" stroke="#000" stroke-width="1.15" fill="none"/>
<path d="M210,535.4 L201.6,542.2 L203.1,537.6 L199.2,534.8 Z" fill="#000" stroke="#000" stroke-width="0.5" stroke-linejoin="miter"/>
<text x="314.4" y="563" fill="#000" stroke="#000" stroke-width="0.35" style="font-size:18.6px;font-weight:bold;font-style:italic;" textLength="99" lengthAdjust="spacingAndGlyphs">5% DWNTs</text>
<text x="76.4" y="616" fill="#000" stroke="#000" stroke-width="0.35" style="font-size:18.6px;font-weight:bold;font-style:italic;" textLength="40.5" lengthAdjust="spacingAndGlyphs">1377</text>
<path d="M130.9,620.1 L159.2,631.9" stroke="#000" stroke-width="1.15" fill="none"/>
<path d="M165.9,634.7 L155.1,634.4 L159.2,631.9 L158.1,627.2 Z" fill="#000" stroke="#000" stroke-width="0.5" stroke-linejoin="miter"/>
<text x="375.3" y="719.4" fill="#000" stroke="#000" stroke-width="0.35" style="font-size:18.6px;font-weight:bold;font-style:italic;" textLength="47.5" lengthAdjust="spacingAndGlyphs">P3HT</text>
<text x="202.4" y="743.8" fill="#000" stroke="#000" stroke-width="0.35" style="font-size:21.5px;font-weight:bold;font-style:italic;" textLength="77" lengthAdjust="spacingAndGlyphs">G-band</text>
<text x="219.4" y="765.7" fill="#000" stroke="#000" stroke-width="0.35" style="font-size:18.6px;font-weight:bold;font-style:italic;" textLength="41.5" lengthAdjust="spacingAndGlyphs">1575</text>
<path d="M263.5,724.4 L294,710.6" stroke="#000" stroke-width="1.15" fill="none"/>
<path d="M300.7,707.6 L293.1,715.3 L294,710.6 L289.9,708.2 Z" fill="#000" stroke="#000" stroke-width="0.5" stroke-linejoin="miter"/>
<text x="83.7" y="773.7" fill="#000" stroke="#000" stroke-width="0.35" style="font-size:21.5px;font-weight:bold;font-style:italic;" textLength="76" lengthAdjust="spacingAndGlyphs">D-band</text>
<text x="96.2" y="792.2" fill="#000" stroke="#000" stroke-width="0.35" style="font-size:18.6px;font-weight:bold;font-style:italic;" textLength="42" lengthAdjust="spacingAndGlyphs">1336</text>
<path d="M127.8,805.3 L143.4,837.6" stroke="#000" stroke-width="1.15" fill="none"/>
<path d="M146.6,844.2 L138.7,836.8 L143.4,837.6 L145.7,833.4 Z" fill="#000" stroke="#000" stroke-width="0.5" stroke-linejoin="miter"/>
<text x="365.1" y="831.3" fill="#000" stroke="#000" stroke-width="0.35" style="font-size:18.6px;font-weight:bold;font-style:italic;" textLength="66.7" lengthAdjust="spacingAndGlyphs">DWNTs</text>
<path d="M606.2,11.8 V361.8" stroke="#000" stroke-width="1.6" fill="none"/>
<path d="M606.2,44.4 h7.2 M606.2,97.2 h7.2 M606.2,150 h7.2 M606.2,202.8 h7.2 M606.2,255.6 h7.2 M606.2,308.4 h7.2 M606.2,361.2 h7.2 " stroke="#000" stroke-width="1.2" fill="none"/>
<text x="594.6" y="52.3" fill="#000" stroke="#000" stroke-width="0.35" style="font-size:18px;font-weight:bold;" text-anchor="end" textLength="31.8" lengthAdjust="spacingAndGlyphs">-2.5</text>
<text x="594.6" y="105.1" fill="#000" stroke="#000" stroke-width="0.35" style="font-size:18px;font-weight:bold;" text-anchor="end" textLength="15.2" lengthAdjust="spacingAndGlyphs">-3</text>
<text x="594.6" y="157.9" fill="#000" stroke="#000" stroke-width="0.35" style="font-size:18px;font-weight:bold;" text-anchor="end" textLength="31.8" lengthAdjust="spacingAndGlyphs">-3.5</text>
<text x="594.6" y="210.7" fill="#000" stroke="#000" stroke-width="0.35" style="font-size:18px;font-weight:bold;" text-anchor="end" textLength="15.2" lengthAdjust="spacingAndGlyphs">-4</text>
<text x="594.6" y="263.5" fill="#000" stroke="#000" stroke-width="0.35" style="font-size:18px;font-weight:bold;" text-anchor="end" textLength="31.8" lengthAdjust="spacingAndGlyphs">-4.5</text>
<text x="594.6" y="316.3" fill="#000" stroke="#000" stroke-width="0.35" style="font-size:18px;font-weight:bold;" text-anchor="end" textLength="15.2" lengthAdjust="spacingAndGlyphs">-5</text>
<text x="594.6" y="369.1" fill="#000" stroke="#000" stroke-width="0.35" style="font-size:18px;font-weight:bold;" text-anchor="end" textLength="31.8" lengthAdjust="spacingAndGlyphs">-5.5</text>
<text x="544.6" y="183.5" fill="#000" stroke="#000" stroke-width="0.35" style="font-size:21px;font-weight:bold;" text-anchor="middle" textLength="135.5" lengthAdjust="spacingAndGlyphs" transform="rotate(-90 544.6 183.5)">ENERGY (eV)</text>
<text x="637.5" y="48.6" fill="#000" stroke="#000" stroke-width="0.1" style="font-size:30.5px;font-weight:bold;font-style:italic;" textLength="38" lengthAdjust="spacingAndGlyphs">(b)</text>
<defs>
<pattern id="hr" patternUnits="userSpaceOnUse" width="8.8" height="8.8"><path d="M-2.2,-2.2 L11,11 M-2.2,6.6 L2.2,11 M6.6,-2.2 L11,2.2" stroke="#FF0000" stroke-width="1.1" fill="none"/></pattern>
<pattern id="hb" patternUnits="userSpaceOnUse" width="8.8" height="8.8"><path d="M-2.2,-2.2 L11,11 M-2.2,6.6 L2.2,11 M6.6,-2.2 L11,2.2" stroke="#0000D2" stroke-width="1.1" fill="none"/></pattern>
</defs>
<rect x="829.1" y="49.4" width="82.4" height="34.4" fill="url(#hr)" stroke="#FF0000" stroke-width="0.9" stroke-dasharray="3.2 2.2"/>
<path d="M825.1,44.4 H913.9 M825.1,87.2 H913.9" stroke="#FF0000" stroke-width="5.6" fill="none"/>
<rect x="829.1" y="281.7" width="82.4" height="33.8" fill="url(#hr)" stroke="#FF0000" stroke-width="0.9" stroke-dasharray="3.2 2.2"/>
<path d="M825.1,276.7 H913.9 M825.1,319 H913.9" stroke="#FF0000" stroke-width="5.6" fill="none"/>
<rect x="651.7" y="271.2" width="83.2" height="65.5" fill="url(#hb)" stroke="#0000D2" stroke-width="0.9" stroke-dasharray="3.2 2.2"/>
<path d="M647.7,266.2 H737.3 M647.7,340.1 H737.3" stroke="#0000D2" stroke-width="5.6" fill="none"/>
<text x="779.5" y="110.8" fill="#FF0000" stroke="#FF0000" stroke-width="0.35" style="font-size:17.8px;font-weight:bold;" textLength="175.4" lengthAdjust="spacingAndGlyphs">LUMO (- 2.5/2.9 eV)</text>
<text x="847" y="164.4" fill="#FF0000" stroke="#FF0000" stroke-width="0.35" style="font-size:17.8px;font-weight:bold;" textLength="48" lengthAdjust="spacingAndGlyphs">P3HT</text>
<text x="777.4" y="266.4" fill="#FF0000" stroke="#FF0000" stroke-width="0.35" style="font-size:17.8px;font-weight:bold;" textLength="173.4" lengthAdjust="spacingAndGlyphs">HOMO (- 4.7/5.1eV)</text>
<text x="615.4" y="360.3" fill="#0000D2" stroke="#0000D2" stroke-width="0.35" style="font-size:17.8px;font-weight:bold;" textLength="175.8" lengthAdjust="spacingAndGlyphs">DWNT (- 4.6/5.3 eV)</text>
<text x="634.9" y="228.8" fill="#008000" stroke="#008000" stroke-width="0.35" style="font-size:17.8px;font-weight:bold;" textLength="113.5" lengthAdjust="spacingAndGlyphs">MWNT (- 4.3)</text>
<path d="M622.2,236.5 H758.8" stroke="#008000" stroke-width="5" stroke-dasharray="9.1 9.1" fill="none"/>
<path d="M799.2,183 H925" stroke="#000" stroke-width="1.5" stroke-dasharray="5.2 2.2" fill="none"/>
<text x="930.5" y="184.6" fill="#000" stroke="#000" stroke-width="0.35" style="font-size:19.8px;font-weight:bold;" textLength="12.6" lengthAdjust="spacingAndGlyphs">E</text>
<text x="945" y="196.5" fill="#000" stroke="#000" stroke-width="0.35" style="font-size:12.5px;font-weight:bold;" textLength="7.8" lengthAdjust="spacingAndGlyphs">F</text>
<rect x="610.8" y="414.4" width="336.8" height="522.8" fill="none" stroke="#2626DC" stroke-width="1.5"/>
<path d="M644.9,414.4 v6.6 M644.9,937.2 v-6.6 M712.2,414.4 v6.6 M712.2,937.2 v-6.6 M779.6,414.4 v6.6 M779.6,937.2 v-6.6 M846.9,414.4 v6.6 M846.9,937.2 v-6.6 M914.3,414.4 v6.6 M914.3,937.2 v-6.6 M610.8,454.2 h7 M947.6,454.2 h-7 M610.8,517.6 h7 M947.6,517.6 h-7 M610.8,581 h7 M947.6,581 h-7 M610.8,644.3 h7 M947.6,644.3 h-7 M610.8,707.7 h7 M947.6,707.7 h-7 M610.8,771.1 h7 M947.6,771.1 h-7 M610.8,834.5 h7 M947.6,834.5 h-7 M610.8,897.9 h7 M947.6,897.9 h-7 " stroke="#2626DC" stroke-width="1.3" fill="none"/>
<text x="644.1" y="956" fill="#000" stroke="#000" stroke-width="0.35" style="font-size:18.2px;font-weight:bold;" text-anchor="middle" textLength="41.3" lengthAdjust="spacingAndGlyphs">1000</text>
<text x="711.5" y="956" fill="#000" stroke="#000" stroke-width="0.35" style="font-size:18.2px;font-weight:bold;" text-anchor="middle" textLength="41.3" lengthAdjust="spacingAndGlyphs">1200</text>
<text x="778.8" y="956" fill="#000" stroke="#000" stroke-width="0.35" style="font-size:18.2px;font-weight:bold;" text-anchor="middle" textLength="41.3" lengthAdjust="spacingAndGlyphs">1400</text>
<text x="846.1" y="956" fill="#000" stroke="#000" stroke-width="0.35" style="font-size:18.2px;font-weight:bold;" text-anchor="middle" textLength="41.3" lengthAdjust="spacingAndGlyphs">1600</text>
<text x="913.5" y="956" fill="#000" stroke="#000" stroke-width="0.35" style="font-size:18.2px;font-weight:bold;" text-anchor="middle" textLength="41.3" lengthAdjust="spacingAndGlyphs">1800</text>
<text x="706.2" y="982.6" fill="#000" stroke="#000" stroke-width="0.35" style="font-size:19px;font-weight:bold;" textLength="171.6" lengthAdjust="spacingAndGlyphs">Raman Shift (cm<tspan dy="-8.3" style="font-size:14px">-1</tspan><tspan dy="8.3">)</tspan></text>
<text x="585.6" y="681" fill="#000" stroke="#000" stroke-width="0.35" style="font-size:19.3px;font-weight:bold;" text-anchor="middle" textLength="124.6" lengthAdjust="spacingAndGlyphs" transform="rotate(-90 585.6 681)">Intensity (a.u)</text>
<path d="M643.7,580.7 644.5,581.3 645.3,581.5 646.1,582 646.9,582.2 647.7,582.1 648.5,582.3 649.3,582.7 650.1,583.5 650.9,583 651.7,583.4 652.5,581.9 653.3,582.5 654.1,582.4 654.9,582.3 655.7,581.2 656.5,580.8 657.3,580.5 658.1,581 658.9,582.1 659.7,580.9 660.5,580.1 661.3,580.6 662.1,580.2 662.9,580.2 663.7,579.7 664.5,579.2 665.3,579.3 666.1,579.7 666.9,579.3 667.7,579.4 668.5,578.2 669.3,578.8 670.1,578 670.9,577.6 671.7,577.6 672.5,576.5 673.3,576.4 674.1,576.3 674.9,576.2 675.7,576.4 676.5,576.9 677.3,577.1 678.1,577.2 678.9,579 679.7,578.5 680.5,579.1 681.3,578.8 682.1,578.4 682.9,579.3 683.7,579.9 684.5,580.3 685.3,580.3 686.1,580.8 686.9,581.1 687.7,581.2 688.5,580.8 689.3,580.9 690.1,580.8 690.9,580.4 691.7,581 692.5,579.2 693.3,579.1 694.1,578.4 694.9,576.6 695.7,577.1 696.5,575.9 697.3,575.7 698.1,575.1 698.9,574.2 699.7,574.7 700.5,574.5 701.3,574.6 702.1,574.2 702.9,573.1 703.7,574.2 704.5,574 705.3,574 706.1,573.9 706.9,573.4 707.7,573.9 708.5,573.5 709.3,575 710.1,573.6 710.9,573.2 711.7,573.5 712.5,574.3 713.3,573.4 714.1,572.6 714.9,574.5 715.7,574.4 716.5,574.6 717.3,575.7 718.1,575.6 718.9,576.1 719.7,577.5 720.5,577.3 721.3,578 722.1,578.1 722.9,578.7 723.7,578.7 724.5,578 725.3,579.4 726.1,579 726.9,579.7 727.7,579.4 728.5,580 729.3,579.2 730.1,578.4 730.9,579.1 731.7,579.4 732.5,578.9 733.3,578.7 734.1,579.4 734.9,578.5 735.7,578.8 736.5,577.9 737.3,576.5 738.1,575.7 738.9,574.8 739.7,573.7 740.5,571.8 741.3,570 742.1,568.5 742.9,566.8 743.7,564.4 744.5,562.1 745.3,560.5 746.1,556.9 746.9,552.9 747.7,549.3 748.5,545.7 749.3,540.8 750.1,535.6 750.9,529.6 751.7,523.9 752.5,519.1 753.3,513.1 754.1,506.5 754.9,502.3 755.7,500.4 756.5,497.5 757.3,496.3 758.1,496.1 758.9,495.6 759.7,495.3 760.5,496.2 761.3,498.1 762.1,500 762.9,502 763.7,505.6 764.5,507.6 765.3,509.4 766.1,510.7 766.9,513.5 767.7,514.7 768.5,517.8 769.3,519.4 770.1,523.1 770.9,526.8 771.7,529.5 772.5,533.1 773.3,535 774.1,537.1 774.9,538.3 775.7,540.1 776.5,541.1 777.3,542.7 778.1,543.6 778.9,543.4 779.7,542.6 780.5,542.9 781.3,542.4 782.1,540.9 782.9,539.4 783.7,538.1 784.5,535.2 785.3,528.5 786.1,524.5 786.9,517.7 787.7,509.5 788.5,500.3 789.3,492.8 790.1,485.5 790.9,477.3 791.7,472.8 792.5,469.4 793.3,467.7 794.1,466 794.9,465.9 795.7,468.4 796.5,472.4 797.3,476.6 798.1,483.8 798.9,491.6 799.7,499 800.5,506.6 801.3,513.4 802.1,520 802.9,526.2 803.7,530.7 804.5,535.3 805.3,539.1 806.1,541.1 806.9,543.6 807.7,544.7 808.5,545.5 809.3,545.9 810.1,546.7 810.9,546.2 811.7,545.2 812.5,546.2 813.3,546.4 814.1,546.3 814.9,545.4 815.7,545.9 816.5,546.8 817.3,545.1 818.1,545.3 818.9,544.3 819.7,543.5 820.5,543.2 821.3,543.1 822.1,542.1 822.9,539.3 823.7,536.9 824.5,533.5 825.3,529.4 826.1,526 826.9,520.5 827.7,513.8 828.5,506.2 829.3,499.7 830.1,491.9 830.9,483.5 831.7,475.9 832.5,467.8 833.3,459.9 834.1,451.9 834.9,441 835.7,432.9 836.5,428.2 837.3,423.3 838.1,421.3 838.9,423.9 839.7,427.8 840.5,432.6 841.3,440.1 842.1,448.9 842.9,456.3 843.7,463.7 844.5,470.4 845.3,477.9 846.1,484.3 846.9,489.3 847.7,494.6 848.5,501.2 849.3,506.2 850.1,511.1 850.9,516.4 851.7,522.8 852.5,528.9 853.3,533.4 854.1,538.8 854.9,543.9 855.7,549.2 856.5,553.7 857.3,556.1 858.1,559.8 858.9,562.8 859.7,565.1 860.5,566.8 861.3,569.4 862.1,570.7 862.9,572.3 863.7,573.9 864.5,574.1 865.3,575.3 866.1,575.5 866.9,576.1 867.7,576.7 868.5,576.8 869.3,576.5 870.1,578.2 870.9,577.8 871.7,577.5 872.5,577.2 873.3,578.3 874.1,578.7 874.9,578.9 875.7,579 876.5,578.3 877.3,578.8 878.1,577.9 878.9,578.7 879.7,579 880.5,578.4 881.3,578.6 882.1,578.7 882.9,578.8 883.7,579.4 884.5,578.3 885.3,579.3 886.1,578.2 886.9,578.5 887.7,578.4 888.5,578.7 889.3,578.5 890.1,578.9 890.9,578.7 891.7,579.6 892.5,578.8 893.3,578.5 894.1,578.7 894.9,578.8 895.7,578.4 896.5,578 897.3,578.1 898.1,578.5 898.9,578.8 899.7,578.6 900.5,578.4 901.3,578.7 902.1,578.4 902.9,579 903.7,579.8 904.5,580 905.3,580.5 906.1,580 906.9,580.6 907.7,580.3 908.5,581.4 909.3,580.9 910.1,580.6 910.9,580.8 911.7,581 912.5,579.6 913.3,579.5" fill="none" stroke="#C00000" stroke-width="2.45" stroke-linejoin="round" stroke-linecap="round"/>
<path d="M643.4,754.6 644.2,754.1 645,754 645.8,753.2 646.6,754.6 647.4,754.3 648.2,754.2 649,753.3 649.8,754 650.6,754.3 651.4,753.6 652.2,753.6 653,753.5 653.8,754 654.6,753.6 655.4,753.6 656.2,753.1 657,753 657.8,754.2 658.6,754.5 659.4,754.2 660.2,754.5 661,753.7 661.8,753.9 662.6,754.2 663.4,754 664.2,754.8 665,753.5 665.8,753.9 666.6,754 667.4,753.8 668.2,754.5 669,753.2 669.8,754.5 670.6,754.3 671.4,753.9 672.2,754.2 673,754.5 673.8,753.4 674.6,753.5 675.4,753.3 676.2,753.3 677,752.8 677.8,752.7 678.6,753.3 679.4,752.9 680.2,753.6 681,753.6 681.8,753.1 682.6,753.5 683.4,753.5 684.2,753.5 685,754.2 685.8,753.8 686.6,753.9 687.4,753 688.2,754.3 689,753.4 689.8,753.9 690.6,754.9 691.4,755 692.2,754 693,753.7 693.8,754.5 694.6,754.1 695.4,754.5 696.2,753.7 697,754.9 697.8,755.1 698.6,753.8 699.4,754.1 700.2,754.1 701,754.8 701.8,753.6 702.6,754.6 703.4,754.5 704.2,754.3 705,755 705.8,753.8 706.6,754.2 707.4,754.5 708.2,755.3 709,754.9 709.8,754.7 710.6,755.4 711.4,755 712.2,755 713,755.1 713.8,755.4 714.6,756.4 715.4,754.7 716.2,755.2 717,754.9 717.8,754.8 718.6,755.4 719.4,755 720.2,754.8 721,754.1 721.8,753.8 722.6,754.2 723.4,753.8 724.2,753.5 725,753.8 725.8,752.8 726.6,752.8 727.4,753.2 728.2,752.5 729,752.6 729.8,751.6 730.6,751.9 731.4,750.9 732.2,751.3 733,750.5 733.8,749.8 734.6,749.6 735.4,748.4 736.2,747.2 737,747.4 737.8,746 738.6,745.4 739.4,743.8 740.2,743 741,740.7 741.8,739 742.6,737.4 743.4,736.5 744.2,733.1 745,730.7 745.8,728.3 746.6,726.2 747.4,723.3 748.2,719.3 749,716.2 749.8,712 750.6,708.1 751.4,702.7 752.2,696.5 753,692.2 753.8,689 754.6,687 755.4,684.5 756.2,680.8 757,678.2 757.8,679.9 758.6,684 759.4,684.1 760.2,685.8 761,690.4 761.8,695.3 762.6,699.5 763.4,703.1 764.2,706.6 765,710.7 765.8,714.2 766.6,716.7 767.4,720.1 768.2,724.4 769,726.5 769.8,727.9 770.6,731.3 771.4,733.3 772.2,734.4 773,737.7 773.8,738.7 774.6,739.9 775.4,740.6 776.2,741.8 777,742.7 777.8,743.3 778.6,743.4 779.4,744.4 780.2,745 781,745.5 781.8,745.3 782.6,746.2 783.4,746.3 784.2,746.7 785,746.9 785.8,746.3 786.6,747.5 787.4,747.7 788.2,746.9 789,747.6 789.8,747.3 790.6,747.6 791.4,748.3 792.2,748.1 793,748.7 793.8,747.8 794.6,747.2 795.4,747.7 796.2,746.4 797,748.2 797.8,747.4 798.6,747.3 799.4,747 800.2,746.4 801,746.6 801.8,746.1 802.6,746 803.4,746.2 804.2,745.3 805,746.3 805.8,744.9 806.6,745.4 807.4,744.4 808.2,743.8 809,744.1 809.8,743.6 810.6,743 811.4,742.6 812.2,741.8 813,741.6 813.8,740.5 814.6,739.9 815.4,739.4 816.2,737.3 817,736.4 817.8,735.1 818.6,733.5 819.4,731.5 820.2,729.9 821,727.8 821.8,725.2 822.6,721.7 823.4,719.4 824.2,715.6 825,710.9 825.8,705.4 826.6,699.3 827.4,693.5 828.2,685.6 829,676.5 829.8,666 830.6,655.2 831.4,639.9 832.2,624.4 833,606.4 833.8,600 834.6,595.5 835.4,596.4 836.2,599.6 837,606.1 837.8,616.1 838.6,626.5 839.4,636.3 840.2,644.8 841,652 841.8,660.8 842.6,668.4 843.4,674.8 844.2,680.7 845,683.9 845.8,688.1 846.6,691.2 847.4,695.1 848.2,699 849,702.7 849.8,706.7 850.6,712.3 851.4,718.2 852.2,723.7 853,727.2 853.8,731.1 854.6,733.7 855.4,737 856.2,739.5 857,741.3 857.8,742.2 858.6,745.2 859.4,748.2 860.2,748.2 861,748.8 861.8,749.9 862.6,751.1 863.4,751.4 864.2,751.8 865,751.8 865.8,752.7 866.6,752.6 867.4,753.6 868.2,754.3 869,754.2 869.8,753.6 870.6,753.5 871.4,753.4 872.2,754.3 873,754.5 873.8,754.7 874.6,754.5 875.4,753.9 876.2,753.6 877,755 877.8,754.1 878.6,755.4 879.4,753.6 880.2,754.1 881,754.1 881.8,754.7 882.6,754.8 883.4,754.3 884.2,754.8 885,754 885.8,754.3 886.6,754 887.4,754.3 888.2,754.3 889,754.7 889.8,756.1 890.6,753.9 891.4,754.5 892.2,754.9 893,754.6 893.8,755.2 894.6,754.1 895.4,755 896.2,754.4 897,755.2 897.8,754.9 898.6,755.1 899.4,754.8 900.2,754.3 901,754.7 901.8,755.6 902.6,755.3 903.4,755.8 904.2,754.9 905,755.7 905.8,755.9 906.6,754.5 907.4,755.6 908.2,756.3 909,755.1 909.8,755.9 910.6,755.4 911.4,755.7 912.2,755.2 913,754.9 913.8,755" fill="none" stroke="#0000D8" stroke-width="2.45" stroke-linejoin="round" stroke-linecap="round"/>
<path d="M642.5,918.2 643.3,918.4 644.1,918.5 644.9,919.3 645.7,919.2 646.5,919.4 647.3,919.8 648.1,920.5 648.9,920.2 649.7,921.4 650.5,921.9 651.3,922.5 652.1,922.6 652.9,923 653.7,923.7 654.5,924.1 655.3,924.8 656.1,924.9 656.9,925.2 657.7,925.3 658.5,926 659.3,926.4 660.1,926.9 660.9,926.9 661.7,927.3 662.5,927.5 663.3,927.1 664.1,927.2 664.9,927.4 665.7,927.6 666.5,927.5 667.3,927.9 668.1,927.9 668.9,927.7 669.7,926.9 670.5,926.1 671.3,925.2 672.1,923.8 672.9,924.2 673.7,925 674.5,926.4 675.3,926 676.1,927.5 676.9,927.9 677.7,928 678.5,928.1 679.3,928 680.1,928.2 680.9,928.1 681.7,927.6 682.5,927.8 683.3,927.1 684.1,927.1 684.9,926.9 685.7,926.3 686.5,926.4 687.3,925.8 688.1,925.9 688.9,925 689.7,924.4 690.5,924 691.3,923.7 692.1,922.9 692.9,922.1 693.7,920.9 694.5,920.3 695.3,919.1 696.1,918.3 696.9,917.9 697.7,917 698.5,916 699.3,916 700.1,915.2 700.9,914.6 701.7,914.6 702.5,913.7 703.3,913.8 704.1,913.6 704.9,914.1 705.7,913 706.5,913.4 707.3,913.4 708.1,913.6 708.9,913.1 709.7,913.1 710.5,913.6 711.3,913.1 712.1,913.2 712.9,913.2 713.7,913.5 714.5,913.8 715.3,915.1 716.1,916.6 716.9,918 717.7,919.3 718.5,920.1 719.3,921 720.1,921.8 720.9,923 721.7,923.3 722.5,924.1 723.3,924.3 724.1,924.8 724.9,925.7 725.7,925.9 726.5,925.9 727.3,926.7 728.1,926.9 728.9,926.9 729.7,927.4 730.5,927.3 731.3,927.4 732.1,927.7 732.9,927.3 733.7,927.7 734.5,927.4 735.3,927.4 736.1,927.7 736.9,927.5 737.7,927.3 738.5,927.4 739.3,927.5 740.1,927.1 740.9,927.6 741.7,927.4 742.5,927.1 743.3,927.2 744.1,927.6 744.9,926.8 745.7,927.3 746.5,925.9 747.3,925.6 748.1,924.3 748.9,924.4 749.7,923.8 750.5,923.7 751.3,923.3 752.1,923 752.9,923.4 753.7,922.8 754.5,922.2 755.3,922.1 756.1,920.9 756.9,920.9 757.7,920.5 758.5,919.2 759.3,918.3 760.1,916.8 760.9,916.1 761.7,914.6 762.5,912.9 763.3,911.2 764.1,909.1 764.9,906.4 765.7,902.7 766.5,899.6 767.3,895.4 768.1,890.3 768.9,884.3 769.7,880.5 770.5,878 771.3,878 772.1,882.8 772.9,889 773.7,896.2 774.5,897.7 775.3,897.9 776.1,897.7 776.9,897.4 777.7,896.6 778.5,893.7 779.3,890.3 780.1,885.2 780.9,881.3 781.7,876.1 782.5,871 783.3,864.6 784.1,858 784.9,851 785.7,842.7 786.5,834.6 787.3,826.4 788.1,817.3 788.9,807.8 789.7,800 790.5,790.3 791.3,780.5 792.1,774.4 792.9,771 793.7,771.4 794.5,775.7 795.3,781.2 796.1,790 796.9,799.3 797.7,809.4 798.5,819.5 799.3,831.4 800.1,841.3 800.9,851.6 801.7,862 802.5,871.4 803.3,880.2 804.1,887.6 804.9,893.4 805.7,898.1 806.5,902.2 807.3,905 808.1,906.9 808.9,909.3 809.7,910.7 810.5,911.2 811.3,912 812.1,912.1 812.9,912.3 813.7,912.8 814.5,912.9 815.3,912.8 816.1,913.6 816.9,913.7 817.7,914.3 818.5,915.9 819.3,917.3 820.1,918.8 820.9,920.1 821.7,920.5 822.5,921.2 823.3,922.7 824.1,923.6 824.9,923.5 825.7,923.9 826.5,924.3 827.3,925 828.1,925.4 828.9,925.6 829.7,926.2 830.5,926.1 831.3,926.4 832.1,926.5 832.9,927.3 833.7,927.4 834.5,927.7 835.3,927.3 836.1,928 836.9,927.9 837.7,928.2 838.5,928.2 839.3,928.1 840.1,928.2 840.9,927.9 841.7,928.2 842.5,928.3 843.3,928.1 844.1,928.4 844.9,928.7 845.7,928.2 846.5,928.1 847.3,928.1 848.1,928.4 848.9,928.8 849.7,928.4 850.5,928.4 851.3,928 852.1,928.4 852.9,928.5 853.7,928.2 854.5,928.3 855.3,928 856.1,928.3 856.9,928.4 857.7,928 858.5,927.9 859.3,927.7 860.1,927.4 860.9,927.3 861.7,927.3 862.5,927.4 863.3,927.3 864.1,927.5 864.9,927.4 865.7,927.6 866.5,927.3 867.3,927 868.1,927.1 868.9,926.7 869.7,927.5 870.5,926.9 871.3,927 872.1,927.5 872.9,926.8 873.7,927 874.5,927.1 875.3,927.1 876.1,927.3 876.9,927.3 877.7,927.5 878.5,927.3 879.3,927.6 880.1,927.4 880.9,927.6 881.7,927.8 882.5,927.1 883.3,927.5 884.1,927.7 884.9,927.2 885.7,926.9 886.5,927.8 887.3,927.6 888.1,928 888.9,927.9 889.7,927.9 890.5,927.9 891.3,928 892.1,927.8 892.9,928 893.7,928.3 894.5,928.1 895.3,928.3 896.1,928.3 896.9,928.2 897.7,928.1 898.5,928.6 899.3,928.3 900.1,928.6 900.9,928.2 901.7,928.7 902.5,928.8 903.3,928.5 904.1,928.3 904.9,928.7 905.7,928.8 906.5,928.6 907.3,928.6 908.1,929 908.9,928.7 909.7,928.7 910.5,929 911.3,928.8 912.1,928.6 912.9,929 913.7,928.7" fill="none" stroke="#FF820C" stroke-width="2.45" stroke-linejoin="round" stroke-linecap="round"/>
<text x="630.4" y="454.8" fill="#000" stroke="#000" stroke-width="0.1" style="font-size:30.5px;font-weight:bold;font-style:italic;" textLength="36.5" lengthAdjust="spacingAndGlyphs">(c)</text>
<text x="679.4" y="489.3" fill="#000" stroke="#000" stroke-width="0.35" style="font-size:18.6px;font-weight:bold;font-style:italic;" textLength="41" lengthAdjust="spacingAndGlyphs">1339</text>
<path d="M723.9,484.8 L745.2,491.9" stroke="#000" stroke-width="1.15" fill="none"/>
<path d="M751.1,493.8 L741.9,494.2 L745.2,491.9 L744,488 Z" fill="#000" stroke="#000" stroke-width="0.5" stroke-linejoin="miter"/>
<text x="759.8" y="437.3" fill="#000" stroke="#000" stroke-width="0.35" style="font-size:18.6px;font-weight:bold;font-style:italic;" textLength="41" lengthAdjust="spacingAndGlyphs">1577</text>
<path d="M801.6,430.5 L827.8,425" stroke="#000" stroke-width="1.15" fill="none"/>
<path d="M833.9,423.7 L826.2,428.7 L827.8,425 L824.8,422.2 Z" fill="#000" stroke="#000" stroke-width="0.5" stroke-linejoin="miter"/>
<text x="864.4" y="510.8" fill="#000" stroke="#000" stroke-width="0.35" style="font-size:19.6px;font-weight:bold;font-style:italic;" textLength="27" lengthAdjust="spacingAndGlyphs">1:1</text>
<text x="864.4" y="535.2" fill="#000" stroke="#000" stroke-width="0.35" style="font-size:19.6px;font-weight:bold;font-style:italic;" textLength="51.5" lengthAdjust="spacingAndGlyphs">P3HT</text>
<text x="864.4" y="560.3" fill="#000" stroke="#000" stroke-width="0.35" style="font-size:19.6px;font-weight:bold;font-style:italic;" textLength="77.2" lengthAdjust="spacingAndGlyphs">MWNTs</text>
<text x="657.7" y="650" fill="#000" stroke="#000" stroke-width="0" style="font-size:21.5px;font-weight:bold;font-style:italic;" textLength="77" lengthAdjust="spacingAndGlyphs">D-band</text>
<text x="673.5" y="672.4" fill="#000" stroke="#000" stroke-width="0.35" style="font-size:18.6px;font-weight:bold;font-style:italic;" textLength="41.8" lengthAdjust="spacingAndGlyphs">1337</text>
<path d="M718.7,665.9 L741.2,674.3" stroke="#000" stroke-width="1.15" fill="none"/>
<path d="M747,676.5 L737.8,676.6 L741.2,674.3 L740.1,670.4 Z" fill="#000" stroke="#000" stroke-width="0.5" stroke-linejoin="miter"/>
<text x="854.7" y="628.3" fill="#000" stroke="#000" stroke-width="0" style="font-size:21.5px;font-weight:bold;font-style:italic;" textLength="77" lengthAdjust="spacingAndGlyphs">G-band</text>
<text x="874" y="649.4" fill="#000" stroke="#000" stroke-width="0.35" style="font-size:18.6px;font-weight:bold;font-style:italic;" textLength="41.3" lengthAdjust="spacingAndGlyphs">1566</text>
<path d="M874,603.7 L849.4,597.3" stroke="#000" stroke-width="1.15" fill="none"/>
<path d="M843.4,595.8 L852.5,594.8 L849.4,597.3 L850.9,601.1 Z" fill="#000" stroke="#000" stroke-width="0.5" stroke-linejoin="miter"/>
<text x="867.5" y="745.3" fill="#000" stroke="#000" stroke-width="0.35" style="font-size:19.6px;font-weight:bold;font-style:italic;" textLength="77.6" lengthAdjust="spacingAndGlyphs">MWNTs</text>
<text x="709.7" y="787.1" fill="#000" stroke="#000" stroke-width="0.35" style="font-size:18.6px;font-weight:bold;font-style:italic;" textLength="40.7" lengthAdjust="spacingAndGlyphs">1446</text>
<path d="M753.8,780.3 L779.9,773.4" stroke="#000" stroke-width="1.15" fill="none"/>
<path d="M785.9,771.8 L778.4,777.2 L779.9,773.4 L776.8,770.8 Z" fill="#000" stroke="#000" stroke-width="0.5" stroke-linejoin="miter"/>
<text x="693.8" y="870.1" fill="#000" stroke="#000" stroke-width="0.35" style="font-size:18.6px;font-weight:bold;font-style:italic;" textLength="41.9" lengthAdjust="spacingAndGlyphs">1377</text>
<path d="M736.1,866.3 L760.3,874.1" stroke="#000" stroke-width="1.15" fill="none"/>
<path d="M766.2,876 L757,876.5 L760.3,874.1 L759,870.2 Z" fill="#000" stroke="#000" stroke-width="0.5" stroke-linejoin="miter"/>
<text x="873.2" y="921.5" fill="#000" stroke="#000" stroke-width="0.35" style="font-size:19.6px;font-weight:bold;font-style:italic;" textLength="53" lengthAdjust="spacingAndGlyphs">P3HT</text>
</svg>
</body>
</html>
